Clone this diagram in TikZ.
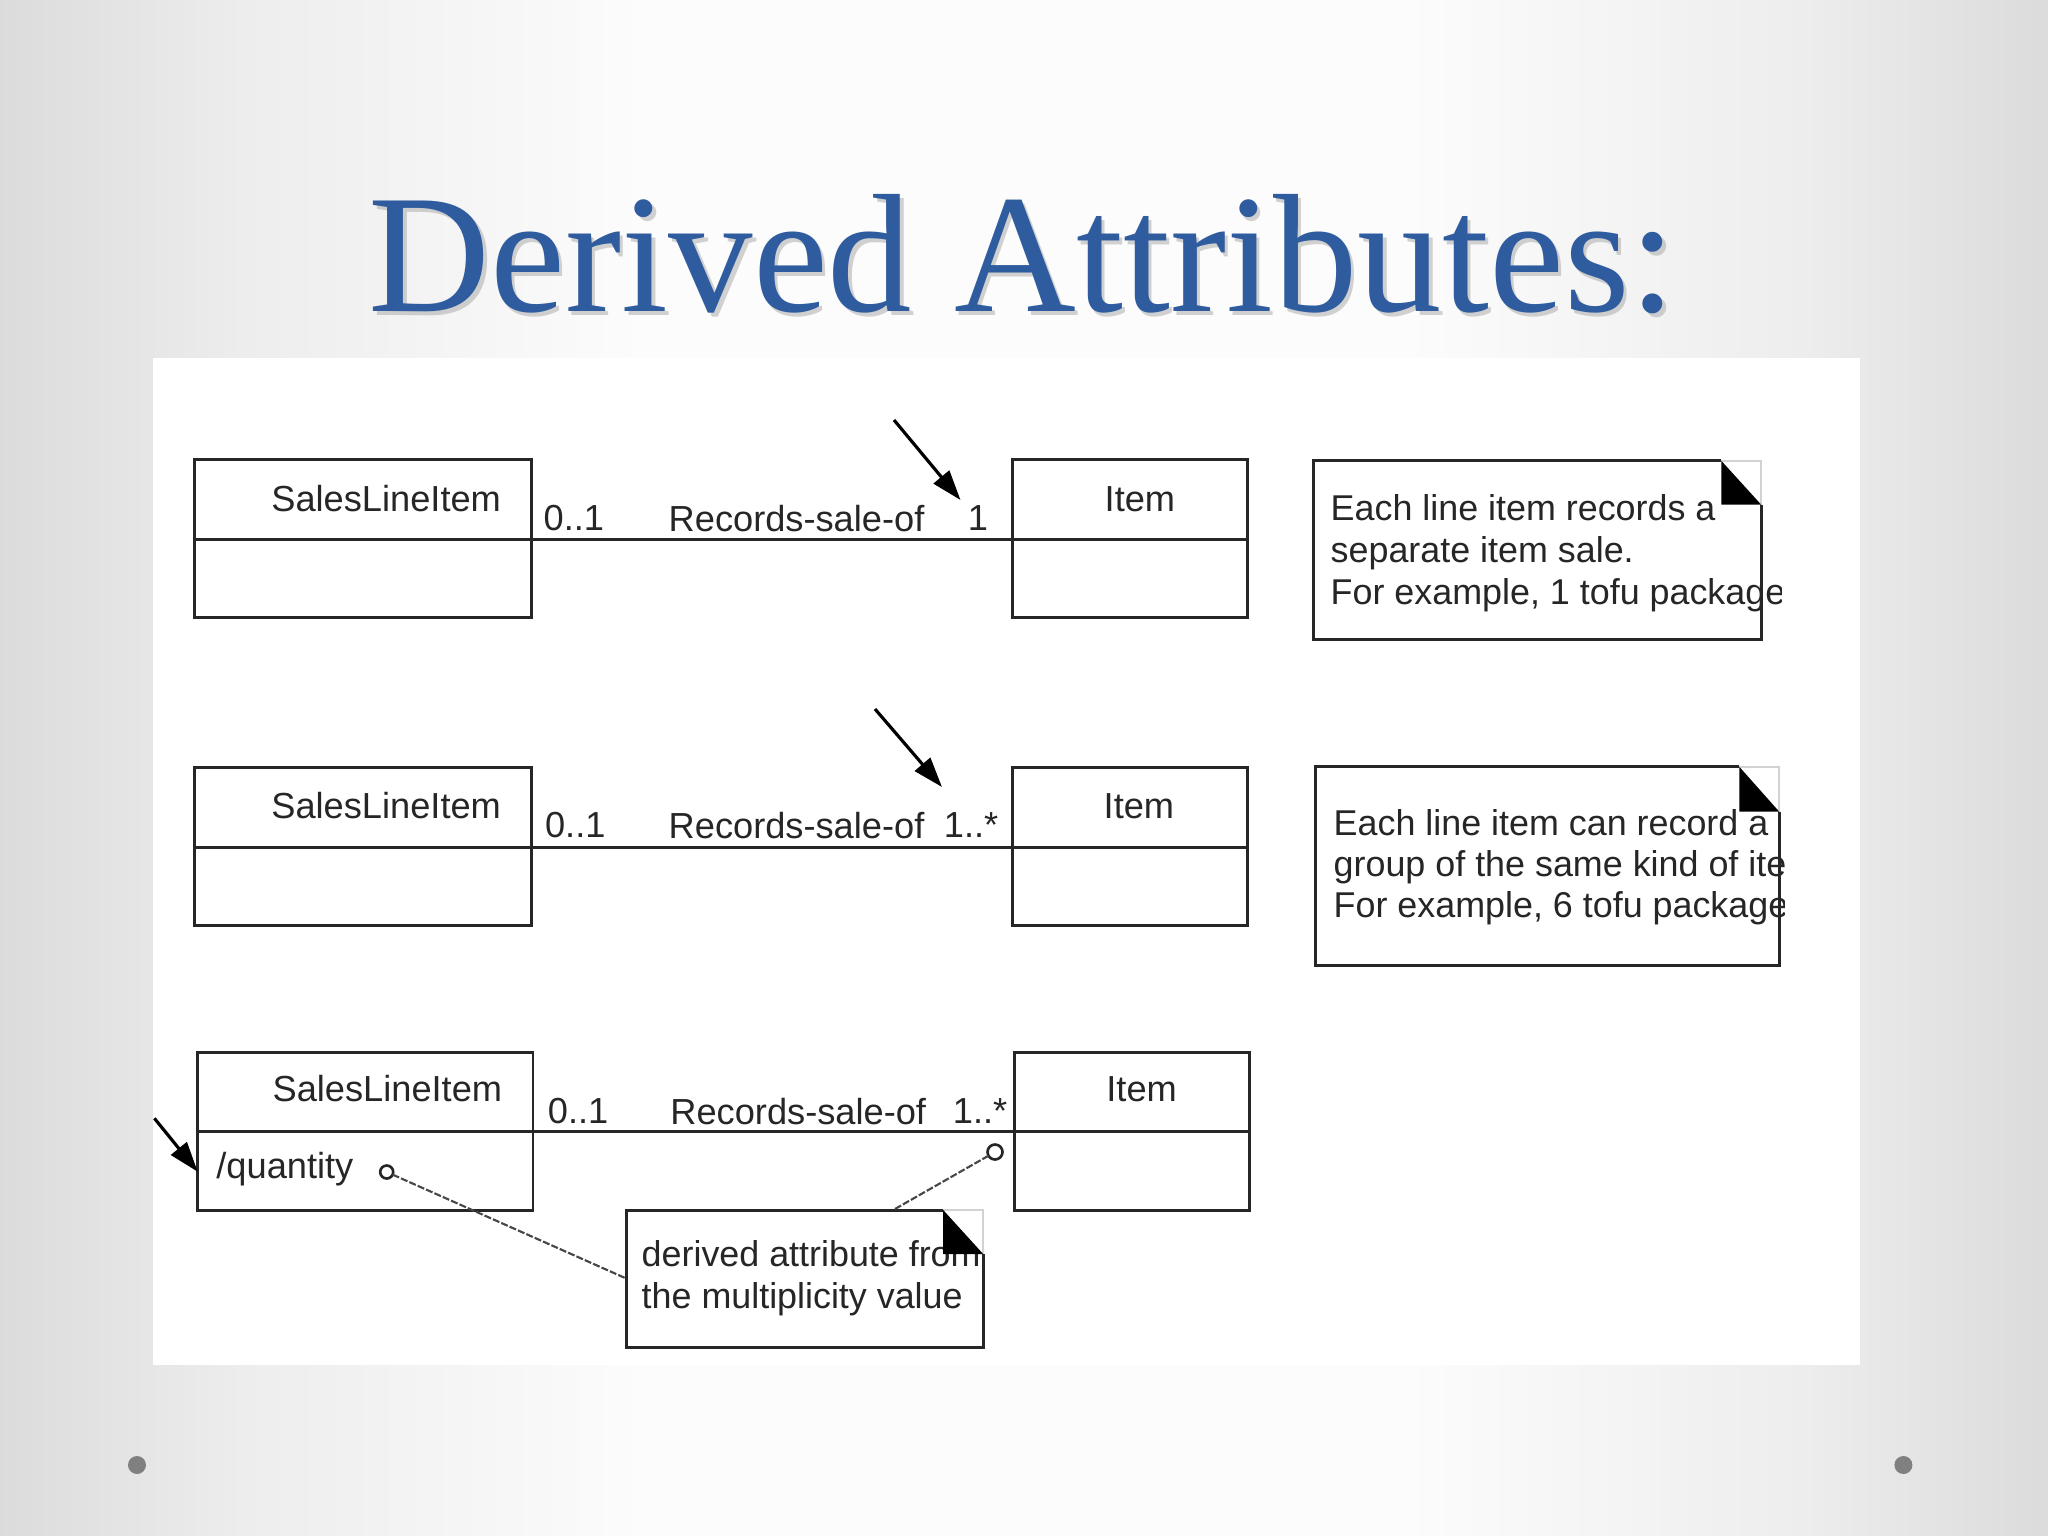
\documentclass[tikz,border=0pt]{standalone}
\usepackage{fontspec}
\setmainfont{Liberation Serif}
\newfontfamily\umlfont{Liberation Sans}
\usetikzlibrary{arrows.meta}
\definecolor{titleblue}{RGB}{46,92,158}
\definecolor{ink}{RGB}{38,38,38}
\definecolor{bulletgray}{RGB}{128,128,128}
\pgfdeclarehorizontalshading{slidebg}{100bp}{color(0bp)=(gray!28); color(25bp)=(gray!28); color(31bp)=(gray!14); color(41bp)=(white!98!gray); color(59bp)=(white!98!gray); color(69bp)=(gray!14); color(75bp)=(gray!28); color(100bp)=(gray!28)}
\begin{document}
\begin{tikzpicture}[x=0.01cm,y=-0.01cm,
  cls/.style={draw=ink, line width=0.85pt, rectangle, inner sep=0pt, outer sep=0pt, anchor=north west},
  notebox/.style={rectangle, inner sep=0pt, outer sep=0pt, anchor=north west},
  noteline/.style={draw=ink, line width=0.85pt, line join=miter},
  lbl/.style={inner sep=0pt, anchor=base west, text=ink, font={\umlfont\fontsize{10.3pt}{12pt}\selectfont}},
  lble/.style={lbl, anchor=base east},
  ntxt/.style={inner sep=0pt, anchor=base west, text=ink, font={\umlfont\fontsize{10.2pt}{12pt}\selectfont}},
  assoc/.style={draw=ink, line width=0.85pt},
  pointer/.style={draw=black, line width=0.9pt, -{Triangle[length=3mm,width=2mm]}},
  anchorline/.style={draw=ink!85, line width=0.6pt, dash pattern=on 2pt off 0.6pt},
  port/.style={circle, draw=ink, fill=white, line width=0.75pt, inner sep=0pt, outer sep=0pt}
]
\useasboundingbox (0,0) rectangle (2048,1536);
% slide background
\shade[shading=slidebg] (0,0) rectangle (2048,1536);
% title
\node[inner sep=0pt, anchor=base, text=black!35, opacity=0.5, font={\fontsize{48pt}{48pt}\selectfont}] (titleshadow) at (1026,315) {Derived Attributes:};
\node[inner sep=0pt, anchor=base, text=titleblue, font={\fontsize{48pt}{48pt}\selectfont}] (title) at (1022.6,311) {Derived Attributes:};
% white panel
\fill[white] (152.8,357.8) rectangle (1859.7,1364.8);
% bullets
\fill[bulletgray] (137,1465) circle[radius=0.09cm];
\fill[bulletgray] (1903.4,1465) circle[radius=0.09cm];

% ---------- Row 1 ----------
\node[cls, minimum width=3.369cm, minimum height=0.797cm] (s1t) at (194.6,459.7) {};
\node[cls, minimum width=3.369cm, minimum height=0.783cm] (s1b) at (194.6,539.4) {};
\node[cls, minimum width=2.35cm, minimum height=0.797cm] (i1t) at (1012.2,459.7) {};
\node[cls, minimum width=2.35cm, minimum height=0.783cm] (i1b) at (1012.2,539.4) {};
\draw[assoc] (s1t.south east) -- (i1t.south west);
\node[lbl] (s1n) at (270.7,511.7) {SalesLineItem};
\node[lbl] (i1n) at (1104,511.7) {Item};
\node[lbl] (m1a) at (543,530) {0..1};
\node[lbl] (r1) at (668,531) {Records-sale-of};
\node[lble] (m1b) at (988.6,530) {1};
\coordinate (a1s) at (894,420);
\coordinate (a1e) at (960.5,500);
\draw[pointer] (a1s) -- (a1e);

% note 1
\node[notebox, minimum width=4.48cm, minimum height=1.786cm] (n1) at (1313,460.7) {};
\begin{scope}
\clip (1300,440) rectangle (1781,660);
\node[ntxt] (n1a) at (1330,520) {Each line item records a};
\node[ntxt] (n1b) at (1330,562) {separate item sale.};
\node[ntxt] (n1c) at (1330,604) {For example, 1 tofu package};
\end{scope}
\draw[noteline] ([xshift=-0.4cm]n1.north east) -- (n1.north west) -- (n1.south west) -- (n1.south east) -- ([yshift=-0.44cm]n1.north east);
\draw[gray!35, line width=0.5pt] ([xshift=-0.4cm]n1.north east) -- (n1.north east) -- ([yshift=-0.44cm]n1.north east);
\fill[black] ([xshift=-0.4cm]n1.north east) -- ([xshift=-0.4cm,yshift=-0.44cm]n1.north east) -- ([yshift=-0.44cm]n1.north east) -- cycle;

% ---------- Row 2 ----------
\node[cls, minimum width=3.369cm, minimum height=0.806cm] (s2t) at (194.6,767) {};
\node[cls, minimum width=3.369cm, minimum height=0.78cm] (s2b) at (194.6,847.6) {};
\node[cls, minimum width=2.35cm, minimum height=0.806cm] (i2t) at (1012.2,767) {};
\node[cls, minimum width=2.35cm, minimum height=0.78cm] (i2b) at (1012.2,847.6) {};
\draw[assoc] (s2t.south east) -- (i2t.south west);
\node[lbl] (s2n) at (270.7,818.3) {SalesLineItem};
\node[lbl] (i2n) at (1103,818.3) {Item};
\node[lbl] (m2a) at (544.4,837.3) {0..1};
\node[lbl] (r2) at (668,838) {Records-sale-of};
\node[lble] (m2b) at (999,837.3) {1..*};
\coordinate (a2s) at (875,709);
\coordinate (a2e) at (942,787);
\draw[pointer] (a2s) -- (a2e);

% note 2
\node[notebox, minimum width=4.632cm, minimum height=1.983cm] (n2) at (1315.8,766.7) {};
\begin{scope}
\clip (1300,750) rectangle (1784,980);
\node[ntxt] (n2a) at (1333,835) {Each line item can record a};
\node[ntxt] (n2b) at (1333,876) {group of the same kind of items.};
\node[ntxt] (n2c) at (1333,917) {For example, 6 tofu packages.};
\end{scope}
\draw[noteline] ([xshift=-0.4cm]n2.north east) -- (n2.north west) -- (n2.south west) -- (n2.south east) -- ([yshift=-0.45cm]n2.north east);
\draw[gray!35, line width=0.5pt] ([xshift=-0.4cm]n2.north east) -- (n2.north east) -- ([yshift=-0.45cm]n2.north east);
\fill[black] ([xshift=-0.4cm]n2.north east) -- ([xshift=-0.4cm,yshift=-0.45cm]n2.north east) -- ([yshift=-0.45cm]n2.north east) -- cycle;

% ---------- Row 3 ----------
\node[cls, minimum width=3.351cm, minimum height=0.783cm] (s3t) at (197.7,1052.7) {};
\node[cls, minimum width=3.351cm, minimum height=0.79cm] (s3b) at (197.7,1131) {};
\node[cls, minimum width=2.35cm, minimum height=0.783cm] (i3t) at (1014.5,1052.7) {};
\node[cls, minimum width=2.35cm, minimum height=0.79cm] (i3b) at (1014.5,1131) {};
\draw[assoc] (s3t.south east) -- (i3t.south west);
\node[lbl] (s3n) at (271.9,1101.7) {SalesLineItem};
\node[lbl] (i3n) at (1105.7,1101.7) {Item};
\node[lbl] (m3a) at (547.2,1123.3) {0..1};
\node[lbl] (r3) at (669.7,1124) {Records-sale-of};
\node[lble] (m3b) at (1008,1123.3) {1..*};
\node[lbl] (q3) at (215.7,1178.3) {/quantity};
\coordinate (a3s) at (154.4,1118.3);
\coordinate (a3e) at (197.7,1171.7);
\draw[pointer] (a3s) -- (a3e);

% note 3
\node[notebox, minimum width=3.566cm, minimum height=1.37cm] (n3) at (626.4,1210) {};
\begin{scope}
\clip (610,1215) rectangle (983,1360);
\node[ntxt] (n3a) at (641,1266.7) {derived attribute from};
\node[ntxt] (n3b) at (641,1308.3) {the multiplicity value};
\end{scope}
\draw[noteline] ([xshift=-0.4cm]n3.north east) -- (n3.north west) -- (n3.south west) -- (n3.south east) -- ([yshift=-0.44cm]n3.north east);
\draw[gray!35, line width=0.5pt] ([xshift=-0.4cm]n3.north east) -- (n3.north east) -- ([yshift=-0.44cm]n3.north east);
\fill[black] ([xshift=-0.4cm]n3.north east) -- ([xshift=-0.4cm,yshift=-0.44cm]n3.north east) -- ([yshift=-0.44cm]n3.north east) -- cycle;

% note anchors
\node[port, minimum size=0.13cm] (p1) at (386.7,1172) {};
\node[port, minimum size=0.15cm] (p2) at (995,1152) {};
\coordinate (n3top) at ([xshift=-0.9cm]n3.north east);
\draw[anchorline] (p1) -- (n3.west);
\draw[anchorline] (p2) -- (n3top);
\end{tikzpicture}
\end{document}
